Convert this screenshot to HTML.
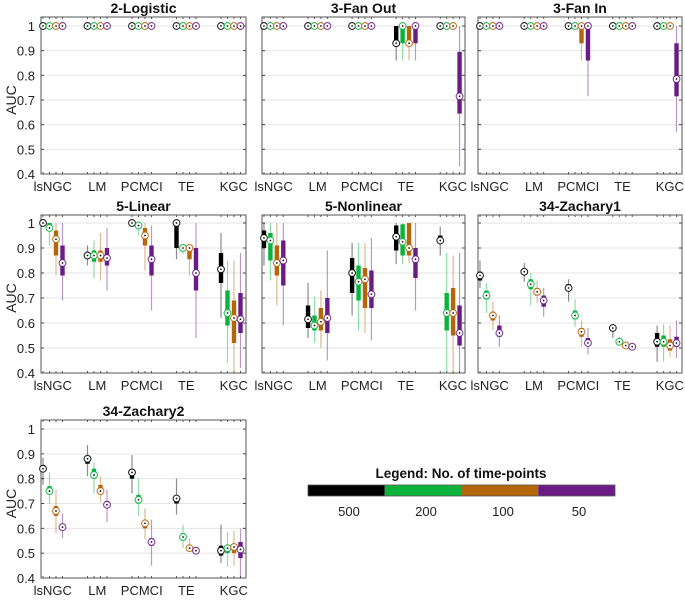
<!DOCTYPE html>
<html><head><meta charset="utf-8">
<style>
body{margin:0;background:#fff;}
svg text{font-family:"Liberation Sans",Arial,sans-serif;}
</style></head>
<body>
<svg id="chart" width="685" height="599" viewBox="0 0 685 599" xmlns="http://www.w3.org/2000/svg"></svg>
<script>
const categories = ["lsNGC","LM","PCMCI","TE","KGC"];
const seriesNames = ["500","200","100","50"];
const yTicks = [0.4,0.5,0.6,0.7,0.8,0.9,1];
const yTickLabels = ["0.4","0.5","0.6","0.7","0.8","0.9","1"];
const panelTitles = ["2-Logistic","3-Fan Out","3-Fan In","5-Linear","5-Nonlinear","34-Zachary1","34-Zachary2"];

const ones = [1,1,1,1,1,1,1,1,1,1,1,1,1,1,1,1,1,1,1,1];
// 2-Logistic
const logMed = ones, logQ1 = ones, logQ3 = ones, logLo = ones, logHi = ones;
// 3-Fan Out
const foMed = [1,1,1,1, 1,1,1,1, 1,1,1,1, .93,1,.93,1, 1,1,1,.715];
const foQ1  = [1,1,1,1, 1,1,1,1, 1,1,1,1, .93,.93,.93,.93, 1,1,1,.645];
const foQ3  = [1,1,1,1, 1,1,1,1, 1,1,1,1, 1,1,1,1, 1,1,1,.895];
const foLo  = [1,1,1,1, 1,1,1,1, 1,1,1,1, .86,.86,.86,.86, 1,1,1,.43];
const foHi  = ones;
// 3-Fan In
const fiMed = [1,1,1,1, 1,1,1,1, 1,1,1,1, 1,1,1,1, 1,1,1,.785];
const fiQ1  = [1,1,1,1, 1,1,1,1, 1,1,.93,.86, 1,1,1,1, 1,1,1,.715];
const fiQ3  = [1,1,1,1, 1,1,1,1, 1,1,1,1, 1,1,1,1, 1,1,1,.93];
const fiLo  = [1,1,1,1, 1,1,1,1, 1,1,.86,.715, 1,1,1,1, 1,1,1,.57];
const fiHi  = ones;
// 5-Linear
const linMed = [1,.98,.935,.84, .87,.87,.87,.86, 1,.99,.95,.855, 1,.9,.9,.8, .815,.64,.62,.615];
const linQ1  = [1,.97,.87,.79, .87,.845,.845,.83, 1,.98,.91,.79, .9,.9,.855,.73, .76,.59,.52,.56];
const linQ3  = [1,1,.97,.91, .87,.89,.89,.90, 1,1,.98,.91, 1,.9,.9,.9, .88,.73,.69,.72];
const linLo  = [1,.91,.79,.69, .83,.78,.77,.73, 1,.95,.81,.65, .855,.875,.79,.54, .62,.44,.4,.42];
const linHi  = [1,1,1,1, .91,.93,.96,.98, 1,1,1,.99, 1,.91,.91,1, .96,.85,.85,.88];
// 5-Nonlinear
const nlMed = [.94,.93,.84,.85, .615,.59,.605,.62, .80,.765,.775,.715, .945,.925,.90,.855, .93,.64,.64,.56];
const nlQ1  = [.90,.85,.79,.75, .58,.57,.57,.56, .72,.69,.66,.66, .89,.87,.87,.78, .92,.57,.55,.51];
const nlQ3  = [.97,.96,.91,.93, .67,.63,.66,.70, .86,.83,.82,.81, .99,.995,1,.90, .95,.72,.74,.67];
const nlLo  = [.83,.77,.67,.59, .54,.52,.50,.45, .63,.57,.56,.53, .835,.835,.84,.65, .87,.4,.4,.4];
const nlHi  = [1,1,1,1, .76,.705,.73,.89, .92,.92,.92,.94, 1,1,1,1, .985,.88,.87,.88];
// 34-Zachary1
const z1Med = [.79,.71,.63,.56, .805,.755,.725,.69, .74,.63,.565,.52, .58,.525,.51,.505, .525,.525,.51,.52];
const z1Q1  = [.77,.695,.61,.545, .80,.735,.71,.665, .73,.615,.545,.51, .58,.525,.51,.505, .505,.505,.49,.505];
const z1Q3  = [.805,.73,.645,.59, .815,.775,.74,.71, .755,.65,.58,.54, .58,.525,.51,.505, .56,.55,.535,.545];
const z1Lo  = [.74,.64,.57,.505, .765,.67,.68,.625, .685,.585,.505,.475, .54,.51,.51,.505, .445,.445,.465,.46];
const z1Hi  = [.85,.76,.685,.63, .84,.80,.77,.74, .775,.695,.61,.58, .595,.545,.51,.505, .59,.595,.59,.61];
// 34-Zachary2
const z2Med = [.84,.75,.67,.605, .88,.815,.75,.695, .825,.715,.62,.545, .72,.565,.52,.51, .51,.52,.525,.515];
const z2Q1  = [.83,.74,.65,.595, .86,.80,.74,.685, .80,.70,.60,.53, .70,.555,.515,.51, .49,.50,.50,.48];
const z2Q3  = [.855,.77,.69,.61, .89,.84,.775,.71, .83,.735,.63,.56, .73,.58,.525,.51, .53,.53,.535,.545];
const z2Lo  = [.775,.70,.58,.56, .81,.74,.705,.625, .74,.65,.555,.45, .655,.52,.505,.51, .46,.445,.45,.40];
const z2Hi  = [.885,.825,.755,.66, .935,.865,.81,.755, .895,.80,.68,.635, .80,.615,.56,.51, .615,.585,.59,.60];

const panelData = [
  [logMed,logQ1,logQ3,logLo,logHi],[foMed,foQ1,foQ3,foLo,foHi],[fiMed,fiQ1,fiQ3,fiLo,fiHi],
  [linMed,linQ1,linQ3,linLo,linHi],[nlMed,nlQ1,nlQ3,nlLo,nlHi],[z1Med,z1Q1,z1Q3,z1Lo,z1Hi],
  [z2Med,z2Q1,z2Q3,z2Lo,z2Hi]
];
const layouts = [
  {x0:41,x1:246,top:17,y1:26,y04:174},{x0:262,x1:465,top:17,y1:26,y04:174},{x0:478,x1:682,top:17,y1:26,y04:174},
  {x0:41,x1:246,top:215,y1:223,y04:373},{x0:262,x1:465,top:215,y1:223,y04:373},{x0:478,x1:682,top:215,y1:223,y04:373},
  {x0:41,x1:246,top:420,y1:429,y04:578}
];
const colors = ["#000000","#0bb33c","#b5650a","#6a1b86"];
const ns = "http://www.w3.org/2000/svg";
const svg = document.getElementById("chart");
function mk(tag, attrs, parent){const e=document.createElementNS(ns,tag);for(const k in attrs)e.setAttribute(k,attrs[k]);(parent||svg).appendChild(e);return e;}

layouts.forEach((L,p)=>{
  const g = mk("g",{});
  
  
  const W = L.x1-L.x0;
  const yS = v => L.y04 + (v-0.4)*(L.y1-L.y04)/0.6;
  const xS = (gi,k) => L.x0 + W*(2 + gi*44.5 + k*6.5)/205;
  mk("rect",{x:L.x0,y:L.top,width:W,height:L.y04-L.top,fill:"#fff"},g);
  yTicks.forEach((t,i)=>{
    const y=yS(t);
    if(i>0) mk("line",{x1:L.x0,x2:L.x1,y1:y,y2:y,stroke:"#e6e6e6","stroke-width":1},g);
    mk("line",{x1:L.x0,x2:L.x0+3,y1:y,y2:y,stroke:"#444"},g);
    mk("line",{x1:L.x1,x2:L.x1-3,y1:y,y2:y,stroke:"#444"},g);
    if(p===0||p===3||p===6){
      const tl=mk("text",{x:L.x0-6,y:y+5,"text-anchor":"end","font-size":"13",fill:"#222"},g);
      tl.textContent=yTickLabels[i];
      
      
    }
  });
  for(let gi=0;gi<5;gi++)for(let k=0;k<4;k++){
    const x=xS(gi,k);
    mk("line",{x1:x,x2:x,y1:L.y04,y2:L.y04-2,stroke:"#555"},g);
    mk("line",{x1:x,x2:x,y1:L.top,y2:L.top+2,stroke:"#555"},g);
  }
  mk("rect",{x:L.x0,y:L.top,width:W,height:L.y04-L.top,fill:"none",stroke:"#555","stroke-width":1},g);
  const tt=mk("text",{x:(L.x0+L.x1)/2,y:L.top-4,"text-anchor":"middle","font-size":"14","font-weight":"bold",fill:"#111"},g);
  tt.textContent=panelTitles[p];
  
  
  categories.forEach((c,gi)=>{
    const cx=(xS(gi,0)+xS(gi,3))/2 + (gi===4?3:0);
    const xl=mk("text",{x:cx,y:L.y04+17,"text-anchor":"middle","font-size":"13",fill:"#222"},g);
    xl.textContent=c;
    
    
  });
  if(p===0||p===3||p===6){
    const yl=mk("text",{x:0,y:0,"text-anchor":"middle","font-size":"14",fill:"#222",transform:`translate(16,${(L.y1+L.y04)/2}) rotate(-90)`},g);
    yl.textContent="AUC";
    
    
  }
  const [med,q1,q3,lo,hi]=panelData[p];
  for(let gi=0;gi<5;gi++)for(let k=0;k<4;k++){
    const i=gi*4+k, x=xS(gi,k), col=colors[k];
    const bg=mk("g",{},g);
    
    
    if(hi[i]>lo[i]) mk("line",{x1:x,x2:x,y1:yS(lo[i]),y2:yS(hi[i]),stroke:col,"stroke-opacity":0.45,"stroke-width":1.2},bg);
    if(q3[i]>q1[i]) mk("rect",{x:x-2.2,y:yS(q3[i]),width:4.4,height:yS(q1[i])-yS(q3[i]),fill:col},bg);
    mk("circle",{cx:x,cy:yS(med[i]),r:3.4,fill:"#fff",stroke:col,"stroke-width":1.1,"stroke-opacity":0.85},bg);
    mk("circle",{cx:x,cy:yS(med[i]),r:0.9,fill:"#111"},bg);
  }
});

// legend
const lg=mk("g",{});


const lt=mk("text",{x:461,y:478,"text-anchor":"middle","font-size":"13.5","font-weight":"bold",fill:"#111"},lg);
lt.textContent="Legend: No. of time-points";
const legX=[349,426,503,579];
colors.forEach((c,k)=>{
  const sw=mk("rect",{x:308+k*76.75,y:485,width:76.75,height:11,fill:c},lg);
  
  
  const t=mk("text",{x:legX[k],y:516,"text-anchor":"middle","font-size":"13",fill:"#222"},lg);
  t.textContent=seriesNames[k];
  
  
});
mk("rect",{x:308,y:485,width:307,height:11,fill:"none",stroke:"#555","stroke-width":0.8},lg);
</script>
</body></html>
